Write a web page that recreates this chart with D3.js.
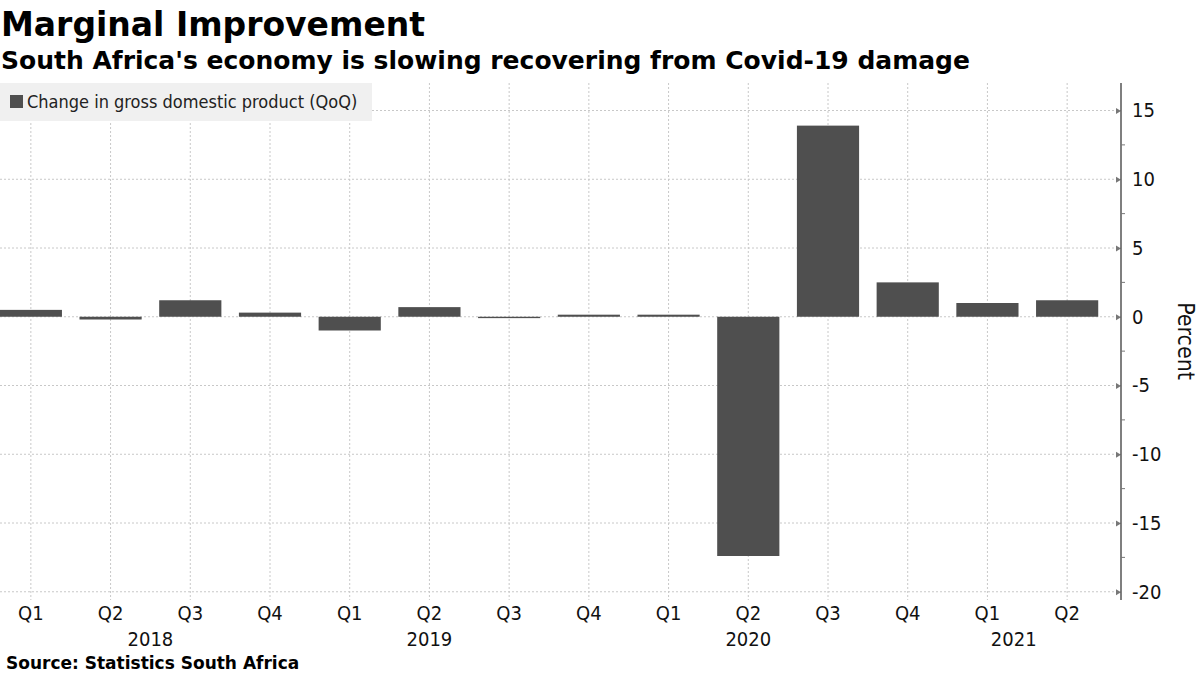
<!DOCTYPE html>
<html>
<head>
<meta charset="utf-8">
<script src="https://cdn.jsdelivr.net/npm/d3@7"></script>
<style>
body { margin: 0; background: #fff; }
svg { display: block; }
</style>
</head>
<body>
<script>
// quarters and years along the bottom
var quarters = ["Q1","Q2","Q3","Q4","Q1","Q2","Q3","Q4","Q1","Q2","Q3","Q4","Q1","Q2"];
var years = ["2018","2019","2020","2021"];
var yearPos = [1.5, 5, 9, 12.33];   // where each year label sits (category index)
// GDP change, % QoQ
var gdpChange = [0.5, -0.2, 1.2, 0.3, -1.0, 0.7, -0.1, 0.15, 0.15, -17.4, 13.9, 2.5, 1.0, 1.2];
var yTicks = [15, 10, 5, 0, -5, -10, -15, -20];

var W = 1200, H = 675;
var plotTop = 83, plotBottom = 600, axisX = 1121;
var font = "'DejaVu Sans Condensed', 'DejaVu Sans'";

var svg = d3.select("body").append("svg")
	.attr("width", W)
	.attr("height", H);

var x = d3.scaleBand()
	.domain(d3.range(quarters.length))
	.range([-9, 1107])
	.paddingInner(0.22)
	.paddingOuter(0.11);

var y = d3.scaleLinear()
	.domain([-20.6, 17.0])
	.range([plotBottom, plotTop]);

var xc = function(i) { return x(0) + x.bandwidth()/2 + i * x.step(); };

// grid
svg.append("g").selectAll("line")
	.data(d3.range(quarters.length)).enter()
	.append("line")
	.attr("x1", function(i){ return xc(i); })
	.attr("x2", function(i){ return xc(i); })
	.attr("y1", plotTop).attr("y2", plotBottom)
	.style("stroke", "#c8c8c8")
	.style("stroke-dasharray", "2,2");

svg.append("g").selectAll("line")
	.data(yTicks).enter()
	.append("line")
	.attr("x1", 0).attr("x2", axisX)
	.attr("y1", function(d){ return y(d); })
	.attr("y2", function(d){ return y(d); })
	.style("stroke", "#c8c8c8")
	.style("stroke-dasharray", "2,2");

// legend
var leg = svg.append("g");
leg.append("rect")
	.attr("x", 0).attr("y", 83).attr("width", 372).attr("height", 38)
	.style("fill", "#f0f0f0");
leg.append("rect")
	.attr("x", 10).attr("y", 95).attr("width", 13).attr("height", 13)
	.style("fill", "#4f4f4f");
leg.append("text")
	.attr("x", 27).attr("y", 108)
	.style("font-family", font)
	.style("font-size", "18px")
	.style("fill", "#222")
	.text("Change in gross domestic product (QoQ)");

// bars
svg.append("g").selectAll("rect")
	.data(gdpChange).enter()
	.append("rect")
	.attr("x", function(d, i){ return x(i); })
	.attr("width", x.bandwidth())
	.attr("y", function(d){ return y(Math.max(0, d)); })
	.attr("height", function(d){ return Math.abs(y(d) - y(0)); })
	.style("fill", "#4f4f4f");

// right axis
var yAxis = d3.axisRight(y)
	.tickValues(yTicks)
	.tickSize(0)
	.tickPadding(11)
	.tickFormat(d3.format("d"));
var ax = svg.append("g")
	.attr("transform", "translate(" + axisX + ",0)")
	.call(yAxis);
ax.select(".domain").remove();
ax.append("line")
	.attr("y1", plotTop).attr("y2", plotBottom)
	.style("stroke", "#555").style("stroke-width", 1.5);
ax.selectAll(".tick text")
	.style("font-family", font)
	.style("font-size", "20px")
	.style("fill", "#111")
	.text(function(d){ return d < 0 ? "-" + Math.abs(d) : d; });
// small arrow marks at major ticks
ax.selectAll(".tick").append("path")
	.attr("d", "M-5,-3L0,0L-5,3Z")
	.style("fill", "#777");
// minor ticks
ax.selectAll(".minor")
	.data(d3.range(-17.5, 16, 5)).enter()
	.append("line")
	.attr("class", "minor")
	.attr("x1", 0).attr("x2", 4)
	.attr("y1", function(d){ return y(d); })
	.attr("y2", function(d){ return y(d); })
	.style("stroke", "#777");

svg.append("text")
	.attr("transform", "translate(1178,341) rotate(90)")
	.attr("text-anchor", "middle")
	.style("font-family", font)
	.style("font-size", "23px")
	.style("fill", "#111")
	.text("Percent");

// bottom labels
svg.append("g").selectAll("text")
	.data(quarters).enter()
	.append("text")
	.attr("x", function(d, i){ return xc(i); })
	.attr("y", 620)
	.attr("text-anchor", "middle")
	.style("font-family", font)
	.style("font-size", "20px")
	.style("fill", "#111")
	.text(function(d){ return d; });

svg.append("g").selectAll("text")
	.data(years).enter()
	.append("text")
	.attr("x", function(d, i){ return xc(yearPos[i]); })
	.attr("y", 646)
	.attr("text-anchor", "middle")
	.style("font-family", font)
	.style("font-size", "20px")
	.style("fill", "#111")
	.text(function(d){ return d; });

// titles
svg.append("text")
	.attr("x", 1).attr("y", 36)
	.style("font-family", "'DejaVu Sans'")
	.style("font-weight", "bold")
	.style("font-size", "33px")
	.style("fill", "#000")
	.text("Marginal Improvement");

svg.append("text")
	.attr("x", 1).attr("y", 69)
	.style("font-family", "'DejaVu Sans'")
	.style("font-weight", "bold")
	.style("font-size", "25px")
	.style("fill", "#000")
	.text("South Africa's economy is slowing recovering from Covid-19 damage");

svg.append("text")
	.attr("x", 6).attr("y", 669)
	.style("font-family", "'DejaVu Sans'")
	.style("font-weight", "bold")
	.style("font-size", "17px")
	.style("fill", "#000")
	.text("Source: Statistics South Africa");
</script>
</body>
</html>
